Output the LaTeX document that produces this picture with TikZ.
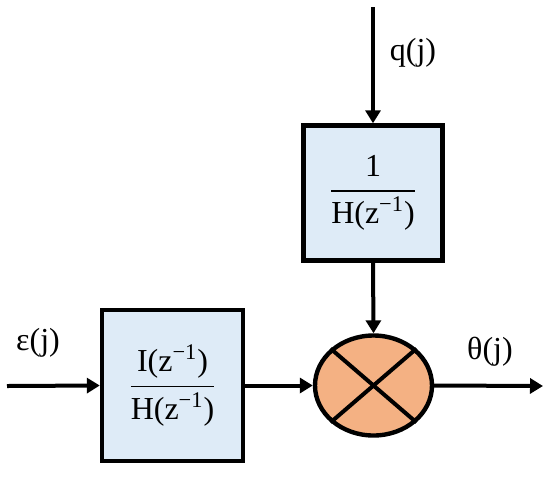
\documentclass[tikz,border=0pt]{standalone}
\usepackage{amsmath}
\usepackage{fontspec}
\setmainfont{Liberation Serif}
\usepackage{tikz}
\usetikzlibrary{arrows.meta,shapes.geometric}
\definecolor{blockfill}{RGB}{222,235,247}
\definecolor{mixfill}{RGB}{244,177,131}
\newcommand{\zinv}{z\textsuperscript{−1}}
\newcommand{\tf}[2]{$\genfrac{}{}{0.8pt}{0}{\text{#1}}{\text{#2}}$}
\tikzset{
  block/.style    = {draw=black, line width=2.2pt, fill=blockfill, inner sep=0pt},
  mixer/.style    = {ellipse, draw=black, line width=2.2pt, fill=mixfill,
                     minimum width=58.5pt, minimum height=50pt, inner sep=0pt},
  signal/.style   = {-{Triangle[length=6.5pt,width=7.5pt]}, line width=2pt},
  cross/.style    = {line width=2pt},
  sig label/.style= {font=\fontsize{16}{19}\selectfont}
}
\begin{document}
\begin{tikzpicture}[x=0.5pt,y=-0.5pt,font=\fontsize{16}{19}\selectfont]
  % frame in pixels of the reference (y grows downwards)
  \useasboundingbox (0,0) rectangle (550,477);
  % blocks
  \node[block, minimum width=69.5pt, minimum height=67.5pt] (hq) at (373,193)
    {\tf{1}{H(\zinv)}};
  \node[block, minimum width=70.5pt, minimum height=75.5pt] (hi) at (172.5,385.5)
    {\tf{I(\zinv)}{H(\zinv)}};
  \node[mixer] (mix) at (373.5,385.5) {};
  \draw[cross] (mix.north west) -- (mix.south east);
  \draw[cross] (mix.north east) -- (mix.south west);
  % free ends
  \coordinate (qin) at (373,7);
  \coordinate (ein) at (7,386);
  \coordinate (tout) at (543,386);
  % signals
  \draw[signal] (qin) -- (hq.north);
  \draw[signal] (hq.south) -- (mix.north);
  \draw[signal] (ein) -- (hi.west);
  \draw[signal] (hi.east) -- (mix.west);
  \draw[signal] (mix.east) -- (tout);
  % labels
  \node[sig label] (ql) at (413,53) {q(j)};
  \node[sig label] (el) at (38,343) {ε(j)};
  \node[sig label] (tl) at (490,352) {θ(j)};
\end{tikzpicture}
\end{document}
